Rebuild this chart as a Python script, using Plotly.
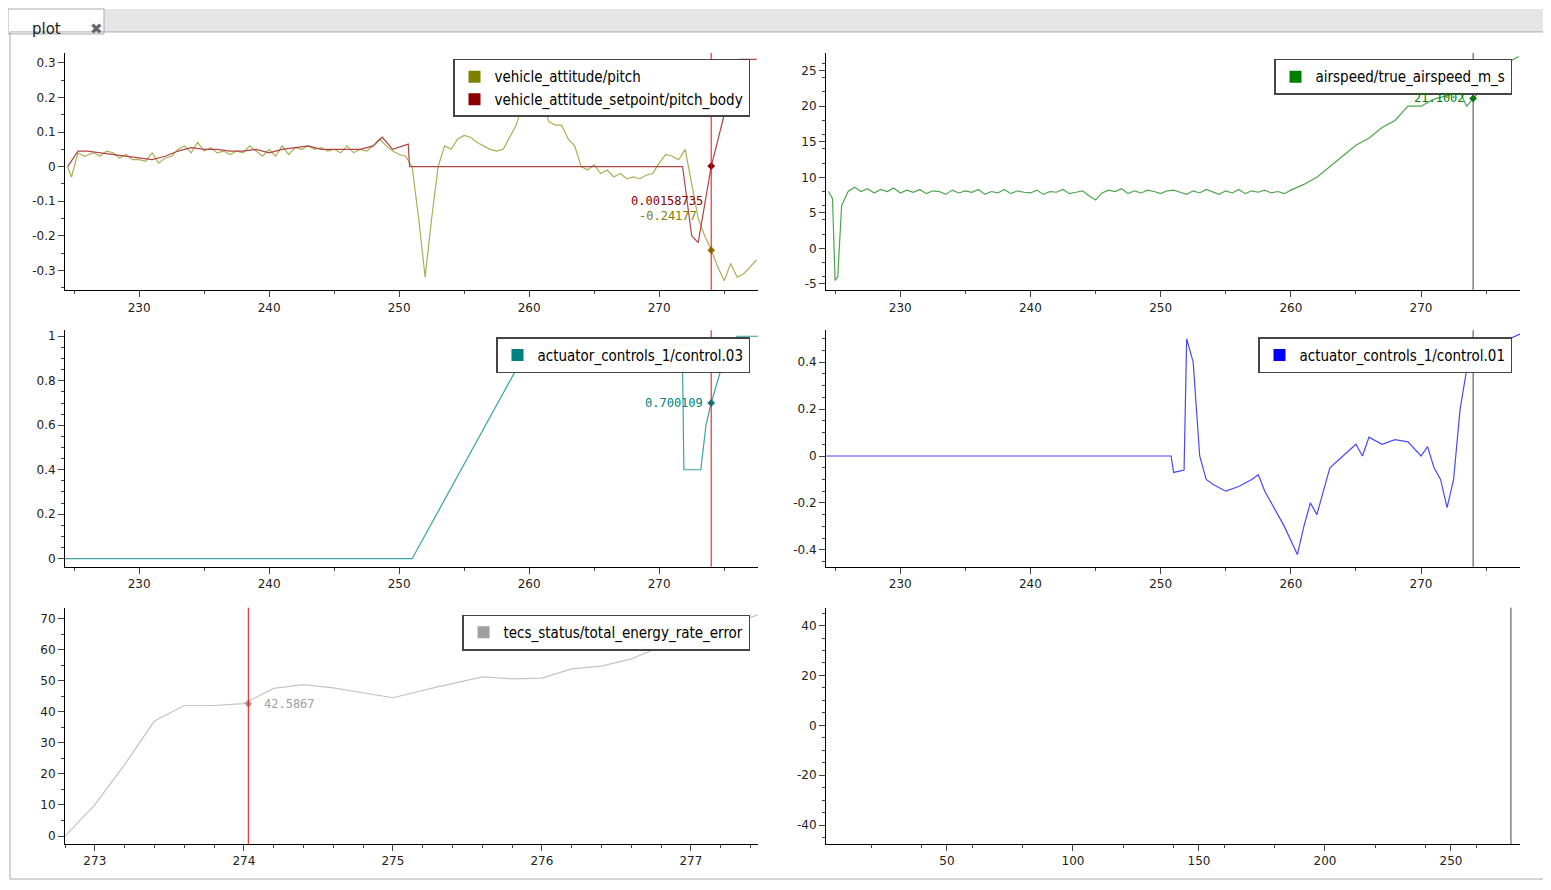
import plotly.graph_objects as go

# ---- data ----
pitch_t = [224.5, 224.8, 225.3, 225.8, 226.5, 227, 227.5, 228, 228.5, 229, 229.5, 230, 230.5, 231, 231.5,
           232, 232.5, 233, 233.5, 234, 234.5, 235, 235.5, 236, 236.5, 237, 237.5, 238, 238.5, 239, 239.5,
           240, 240.5, 241, 241.5, 242, 242.5, 243, 243.5, 244, 244.5, 245, 245.5, 246, 246.5, 247, 247.5,
           248, 248.5, 249, 249.5, 250, 250.5, 251, 251.5, 252, 252.5, 253, 253.5, 254, 254.5, 255, 255.5,
           256, 256.5, 257, 257.5, 258, 259, 259.5, 260, 260.5, 261, 261.5, 262, 262.5, 263, 263.5, 264,
           264.5, 265, 265.5, 266, 266.5, 267, 267.5, 268, 268.5, 269, 269.5, 270, 270.5, 271, 271.5, 272,
           272.5, 273, 273.5, 274, 274.5, 275, 275.5, 276, 276.5, 277, 277.5]
pitch = [0.0, -0.03, 0.04, 0.03, 0.04, 0.03, 0.045, 0.04, 0.025, 0.035, 0.02, 0.02, 0.015, 0.04, 0.01,
         0.025, 0.03, 0.05, 0.06, 0.04, 0.07, 0.045, 0.055, 0.04, 0.045, 0.035, 0.045, 0.04, 0.06, 0.045, 0.03,
         0.05, 0.03, 0.06, 0.035, 0.055, 0.05, 0.06, 0.05, 0.055, 0.045, 0.05, 0.04, 0.06, 0.04, 0.05, 0.045,
         0.06, 0.08, 0.06, 0.045, 0.035, 0.03, 0.0, -0.15, -0.32, -0.15, 0.0, 0.06, 0.05, 0.08, 0.09, 0.085,
         0.07, 0.06, 0.05, 0.045, 0.05, 0.12, 0.18, 0.22, 0.25, 0.2, 0.13, 0.12, 0.12, 0.08, 0.06, 0.0,
         -0.01, 0.005, -0.02, -0.01, -0.03, -0.02, -0.035, -0.03, -0.035, -0.025, -0.02, 0.01, 0.035, 0.03, 0.02, 0.05,
         -0.05, -0.15, -0.2, -0.24, -0.29, -0.33, -0.28, -0.32, -0.31, -0.29, -0.27]

sp_t = [224.5, 225.3, 226, 227, 228, 229, 230, 231, 232, 233, 234, 235, 236, 237, 238, 239, 240, 241,
        242, 243, 244, 245, 246, 247, 248, 248.7, 249.5, 250.7, 250.8, 271.8, 272.5, 273, 274, 275, 276.2, 277.5]
setpoint = [0.0, 0.045, 0.045, 0.04, 0.035, 0.03, 0.025, 0.02, 0.03, 0.045, 0.055, 0.05, 0.05, 0.045, 0.045,
            0.05, 0.04, 0.05, 0.055, 0.06, 0.05, 0.05, 0.05, 0.05, 0.06, 0.085, 0.05, 0.065, 0.0, 0.0, -0.2,
            -0.22, 0.0, 0.15, 0.31, 0.31]

as_t = [224.5, 224.8, 225.0, 225.2, 225.5, 226, 226.5, 227, 227.5, 228, 228.5, 229, 229.5, 230, 230.5, 231,
        231.5, 232, 232.5, 233, 233.5, 234, 234.5, 235, 235.5, 236, 236.5, 237, 237.5, 238, 238.5, 239, 239.5,
        240, 240.5, 241, 241.5, 242, 242.5, 243, 243.5, 244, 244.5, 245, 245.5, 246, 246.5, 247, 247.5, 248,
        248.5, 249, 249.5, 250, 250.5, 251, 251.5, 252, 252.5, 253, 253.5, 254, 254.5, 255, 255.5, 256, 256.5,
        257, 257.5, 258, 258.5, 259, 259.5, 260, 261, 262, 263, 264, 265, 266, 267, 268, 269, 270, 271, 272,
        273, 273.5, 274, 275, 276, 277, 277.5]
airspeed = [8, 7, -4.5, -4, 6, 8, 8.6, 8.0, 8.4, 7.8, 8.3, 8.0, 8.5, 7.8, 8.2, 7.9, 8.3, 7.7, 8.1, 8.0, 7.6,
            8.2, 7.8, 8.1, 7.9, 8.3, 7.6, 8.0, 7.8, 8.3, 7.7, 8.1, 7.9, 7.8, 8.2, 7.6, 8.0, 7.9, 8.3, 7.7, 7.9,
            8.1, 7.4, 6.8, 7.8, 8.2, 8.0, 8.4, 7.7, 8.1, 7.8, 8.2, 8.0, 7.7, 8.1, 8.2, 7.9, 7.6, 8.1, 7.8, 8.3,
            7.9, 7.6, 8.1, 7.8, 8.3, 7.7, 8.1, 7.9, 8.2, 7.8, 8.0, 7.7, 8.2, 9, 10, 11.5, 13, 14.5, 15.5, 17, 18,
            20, 20, 21, 21.5, 22, 20, 21.1, 23, 25, 26.5, 27]

thr_t = [224.3, 251, 259, 271.8, 271.9, 273.2, 273.6, 274, 275, 276, 277.6]
throttle = [0.0, 0.0, 0.85, 0.85, 0.4, 0.4, 0.6, 0.7, 0.9, 1.0, 1.0]

ail_t = [224.3, 250.8, 251, 251.8, 252, 252.5, 253, 253.5, 254, 255, 256, 257, 257.5, 258, 259, 259.5, 260.5,
         261, 261.5, 262, 262.5, 263, 264, 265, 265.5, 266, 267, 268, 269, 270, 270.5, 271, 271.5, 272, 272.5,
         273, 273.6, 274, 277.6]
aileron = [0, 0, -0.07, -0.06, 0.5, 0.4, 0.0, -0.1, -0.12, -0.15, -0.13, -0.1, -0.08, -0.15, -0.25, -0.3,
           -0.42, -0.3, -0.2, -0.25, -0.15, -0.05, 0.0, 0.05, 0.0, 0.08, 0.05, 0.07, 0.06, 0.0, 0.04, -0.05,
           -0.1, -0.22, -0.1, 0.2, 0.4, 0.43, 0.52]

tecs_t = [272.8, 273, 273.2, 273.4, 273.6, 273.8, 274, 274.2, 274.4, 274.6, 275, 275.3, 275.6, 275.8, 276,
          276.2, 276.4, 276.6, 276.8, 277, 277.5]
tecs = [0, 10, 23, 37, 42, 42, 42.6, 47.5, 48.7, 47.7, 44.5, 48, 51.2, 50.6, 50.8, 53.8, 54.7, 57, 61, 64, 72]

cursor_t = 274.0

# page has an 8px body margin, so figure coords = screen px - 8
W, H = 1535, 874
def px(x):
    return (x - 8) / W
def py(y):
    return 1 - (y - 8) / H

XL = [px(65), px(758)]
XR = [px(826), px(1520)]
Y_ROWS = [[py(290), py(52)], [py(567), py(330)], [py(845), py(608)]]
TICKF = dict(family="DejaVu Sans", size=12, color="#222")

def fmt(v):
    return "%g" % round(v, 6)  # plain hyphen minus, like the original

fig = go.Figure()
layout = dict(width=W, height=H, margin=dict(l=0, r=0, t=0, b=0),
              paper_bgcolor="white", plot_bgcolor="white", showlegend=True)

panels = [  # (xdomain, ydomain, xrange, yrange, xticks, yticks)
    (XL, Y_ROWS[0], [224.3, 277.6], [-0.358, 0.329], [230, 240, 250, 260, 270], [-0.3, -0.2, -0.1, 0, 0.1, 0.2, 0.3]),
    (XR, Y_ROWS[0], [224.3, 277.6], [-5.9, 27.5], [230, 240, 250, 260, 270], [-5, 0, 5, 10, 15, 20, 25]),
    (XL, Y_ROWS[1], [224.3, 277.6], [-0.036, 1.027], [230, 240, 250, 260, 270], [0, 0.2, 0.4, 0.6, 0.8, 1]),
    (XR, Y_ROWS[1], [224.3, 277.6], [-0.472, 0.536], [230, 240, 250, 260, 270], [-0.4, -0.2, 0, 0.2, 0.4]),
    (XL, Y_ROWS[2], [272.8, 277.45], [-2.6, 73.5], [273, 274, 275, 276, 277], [0, 10, 20, 30, 40, 50, 60, 70]),
    (XR, Y_ROWS[2], [2, 277.4], [-47.6, 47.2], [50, 100, 150, 200, 250], [-40, -20, 0, 20, 40]),
]
for i, (xd, yd, xr, yr, xt, yt) in enumerate(panels, start=1):
    sx = "" if i == 1 else str(i)
    common = dict(showgrid=False, zeroline=False, showline=True, linecolor="black", ticks="outside",
                  ticklen=6, tickfont=TICKF, minor=dict(ticks="outside", ticklen=3, nticks=5))
    layout["xaxis" + sx] = dict(domain=xd, range=xr, anchor="y" + sx, tickvals=xt,
                                ticktext=[fmt(v) for v in xt], **common)
    layout["yaxis" + sx] = dict(domain=yd, range=yr, anchor="x" + sx, tickvals=yt,
                                ticktext=[fmt(v) for v in yt], **common)

def legend_at(x, y):
    return dict(x=x, y=y, xanchor="right", yanchor="top", bgcolor="white", bordercolor="#444", borderwidth=1.5,
                font=dict(family="Liberation Sans Narrow, DejaVu Sans Condensed, Liberation Sans", size=15,
                          color="black"),
                itemwidth=30, tracegroupgap=0, itemsizing="constant")

layout["legend"] = legend_at(px(750), py(58))
layout["legend2"] = legend_at(px(1512), py(58))
layout["legend3"] = legend_at(px(750), py(337))
layout["legend4"] = legend_at(px(1512), py(337))
layout["legend5"] = legend_at(px(750), py(615))
fig.update_layout(**layout)

def line(x, y, name, color, swatch, xa, ya, leg):
    fig.add_trace(go.Scatter(x=x, y=y, mode="lines", line=dict(color=color, width=1.2),
                             xaxis=xa, yaxis=ya, showlegend=False))
    # legend entry with a square swatch
    fig.add_trace(go.Scatter(x=[None], y=[None], name=name, mode="markers",
                             marker=dict(color=swatch, size=9, symbol="square"),
                             xaxis=xa, yaxis=ya, legend=leg))

line(pitch_t, pitch, "vehicle_attitude/pitch", "#adad55", "#808000", "x", "y", "legend")
line(sp_t, setpoint, "vehicle_attitude_setpoint/pitch_body", "#b04545", "#8b0000", "x", "y", "legend")
line(as_t, airspeed, "airspeed/true_airspeed_m_s", "#4da64d", "#008000", "x2", "y2", "legend2")
line(thr_t, throttle, "actuator_controls_1/control.03", "#3aa3a3", "#008080", "x3", "y3", "legend3")
line(ail_t, aileron, "actuator_controls_1/control.01", "#4848ff", "#0000ff", "x4", "y4", "legend4")
line(tecs_t, tecs, "tecs_status/total_energy_rate_error", "#c4c4c4", "#a0a0a0", "x5", "y5", "legend5")

# cursor markers
def dot(x, y, color, xa, ya):
    fig.add_trace(go.Scatter(x=[x], y=[y], mode="markers", marker=dict(color=color, size=6, symbol="diamond"),
                             xaxis=xa, yaxis=ya, showlegend=False))

dot(cursor_t, -0.24177, "#808000", "x", "y")
dot(cursor_t, 0.00158735, "#8b0000", "x", "y")
dot(cursor_t, 21.1002, "#008000", "x2", "y2")
dot(cursor_t, 0.700109, "#008080", "x3", "y3")
dot(cursor_t, 0.43, "#0000ff", "x4", "y4")
dot(274.03, 42.5867, "#a0a0a0", "x5", "y5")

# cursor lines
for xa, ya, c, xv in [("x", "y", "red", cursor_t), ("x2", "y2", "#444", cursor_t), ("x3", "y3", "red", cursor_t),
                      ("x4", "y4", "#444", cursor_t), ("x5", "y5", "red", 274.03), ("x6", "y6", "#444", 273.8)]:
    fig.add_shape(type="line", xref=xa, yref=ya + " domain", x0=xv, x1=xv, y0=0, y1=1, line=dict(color=c, width=1))

mono = dict(family="DejaVu Sans Mono", size=12)
for txt, xa, ya, xv, yv, col, anchor, sh in [
        ("0.00158735", "x", "y", cursor_t, -0.10, "#8b0000", "right", -6),
        ("-0.24177", "x", "y", cursor_t, -0.143, "#808000", "right", -12),
        ("21.1002", "x2", "y2", cursor_t, 21.1, "#008000", "right", -6),
        ("0.700109", "x3", "y3", cursor_t, 0.70, "#008080", "right", -6),
        ("42.5867", "x5", "y5", 274.03, 42.6, "#a0a0a0", "left", 14)]:
    fig.add_annotation(x=xv, y=yv, xref=xa, yref=ya, text=txt, showarrow=False, xanchor=anchor,
                       xshift=sh, font=dict(color=col, **mono))

# window chrome: top tab strip and frame
fig.add_shape(type="rect", xref="paper", yref="paper", x0=0, x1=1, y0=py(31), y1=1,
              fillcolor="#e6e6e6", line=dict(width=0), layer="below")
fig.add_shape(type="rect", xref="paper", yref="paper", x0=0, x1=px(104), y0=py(33), y1=1,
              fillcolor="white", line=dict(color="#aaa", width=1), layer="below")
fig.add_shape(type="rect", xref="paper", yref="paper", x0=px(10), x1=px(1545), y0=py(880), y1=py(31),
              fillcolor="rgba(0,0,0,0)", line=dict(color="#aaa", width=1), layer="below")
fig.add_annotation(x=px(30), y=py(17), xref="paper", yref="paper", text="plot", showarrow=False,
                   xanchor="left", font=dict(family="DejaVu Sans", size=15, color="#222"))
fig.add_annotation(x=px(88), y=py(17), xref="paper", yref="paper", text="✖", showarrow=False,
                   font=dict(family="DejaVu Sans", size=15, color="#666"))

fig.write_html("out.html")
